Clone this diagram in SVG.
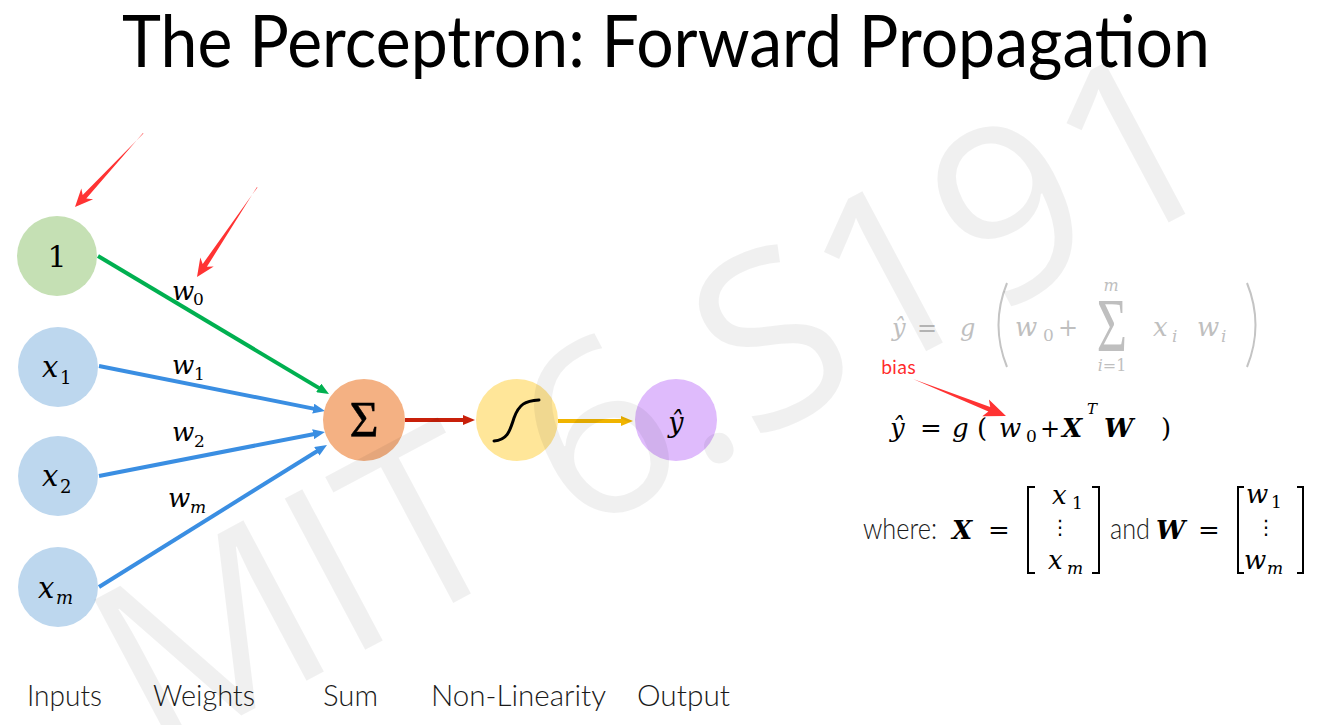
<svg xmlns="http://www.w3.org/2000/svg" width="1317" height="725" viewBox="0 0 1317 725">
<style>
.title{font-family:Lato,"Liberation Sans",sans-serif;font-size:72px;fill:#000}
.cap{font-family:Lato,"Liberation Sans",sans-serif;font-size:29px;font-weight:300;fill:#1a1a1a}
.m{font-family:"DejaVu Serif","Liberation Serif",serif;fill:#000}
.it{font-style:italic}
.bi{font-style:italic;font-weight:bold}
.gray{fill:#bfbfbf}
.bias{font-family:"Noto Sans CJK SC","Liberation Sans",sans-serif;font-size:18px;fill:#ff2b2b}
.wm{font-family:"Open Sans","DejaVu Sans",sans-serif;font-size:240px;fill:#000;fill-opacity:0.06}
.c-g{stroke:#00b050;stroke-width:4;fill:none}
.c-b{stroke:#3a8ee2;stroke-width:4;fill:none}
.c-r{stroke:#c8200a;stroke-width:4;fill:none}
.c-y{stroke:#f0b400;stroke-width:4;fill:none}
.br{stroke:#000;stroke-width:2;fill:none}
.ann{fill:#ff3333}
</style>
<defs>
<marker id="ag" viewBox="0 0 12 10" refX="4" refY="5" markerWidth="12" markerHeight="10" markerUnits="userSpaceOnUse" orient="auto"><path d="M0,0 L12,5 L0,10 z" fill="#00b050"/></marker>
<marker id="ab" viewBox="0 0 12 10" refX="4" refY="5" markerWidth="12" markerHeight="10" markerUnits="userSpaceOnUse" orient="auto"><path d="M0,0 L12,5 L0,10 z" fill="#3a8ee2"/></marker>
<marker id="ar" viewBox="0 0 12 10" refX="4" refY="5" markerWidth="12" markerHeight="10" markerUnits="userSpaceOnUse" orient="auto"><path d="M0,0 L12,5 L0,10 z" fill="#c8200a"/></marker>
<marker id="ay" viewBox="0 0 12 10" refX="4" refY="5" markerWidth="12" markerHeight="10" markerUnits="userSpaceOnUse" orient="auto"><path d="M0,0 L12,5 L0,10 z" fill="#f0b400"/></marker>
</defs>
<rect width="1317" height="725" fill="#fff"/>

<text class="title" x="122" y="67" textLength="1088" lengthAdjust="spacingAndGlyphs">The Perceptron: Forward Propagation</text>

<g id="connectors">
<line class="c-g" x1="98" y1="256" x2="322.1" y2="389.9" marker-end="url(#ag)"/>
<line class="c-b" x1="99" y1="366" x2="317.2" y2="409.4" marker-end="url(#ab)"/>
<line class="c-b" x1="99" y1="476" x2="317.1" y2="433.5" marker-end="url(#ab)"/>
<line class="c-b" x1="99" y1="587" x2="320.2" y2="449.2" marker-end="url(#ab)"/>
<line class="c-r" x1="405" y1="420" x2="467" y2="420" marker-end="url(#ar)"/>
<line class="c-y" x1="558" y1="421" x2="625" y2="421" marker-end="url(#ay)"/>
</g>

<g id="weights" class="m">
<text class="it" x="172" y="300" font-size="26">w</text><text x="193" y="305" font-size="17">0</text>
<text class="it" x="172" y="374" font-size="26">w</text><text x="194" y="380" font-size="17">1</text>
<text class="it" x="172" y="441" font-size="26">w</text><text x="194" y="447" font-size="17">2</text>
<text class="it" x="168" y="507" font-size="26">w</text><text class="it" x="190" y="513" font-size="17">m</text>
</g>

<g id="node-bias"><circle cx="57" cy="256" r="40" fill="#c5e0b4"/><text class="m" x="57" y="267" font-size="30" text-anchor="middle">1</text></g>
<g id="node-x1"><circle cx="58" cy="367" r="40" fill="#bdd7ee"/><text class="m it" x="42" y="377" font-size="29">x</text><text class="m" x="60" y="384" font-size="18">1</text></g>
<g id="node-x2"><circle cx="58" cy="476" r="40" fill="#bdd7ee"/><text class="m it" x="42" y="486" font-size="29">x</text><text class="m" x="60" y="493" font-size="18">2</text></g>
<g id="node-xm"><circle cx="58" cy="587" r="40" fill="#bdd7ee"/><text class="m it" x="38" y="598" font-size="29">x</text><text class="m it" x="56" y="604" font-size="18">m</text></g>
<g id="node-sum"><circle cx="364" cy="420" r="41" fill="#f4b183"/><text x="364" y="436" font-size="50" text-anchor="middle" font-family="Liberation Serif, serif" stroke="#000" stroke-width="0.5">Σ</text></g>
<g id="node-nonlin"><circle cx="517" cy="420" r="41" fill="#ffe699"/><path d="M494,441 C508,440 510,430 514,418 C519,404 525,401 539,400" stroke="#000" stroke-width="3" fill="none" stroke-linecap="round"/></g>
<g id="node-out"><circle cx="676" cy="420" r="41" fill="#dfbbfc"/><text class="m it" x="676" y="432" font-size="27" text-anchor="middle">ŷ</text></g>

<g id="captions" class="cap">
<text x="27" y="706" textLength="75" lengthAdjust="spacingAndGlyphs">Inputs</text>
<text x="153" y="706" textLength="102" lengthAdjust="spacingAndGlyphs">Weights</text>
<text x="323" y="706" textLength="55" lengthAdjust="spacingAndGlyphs">Sum</text>
<text x="431" y="706" textLength="175" lengthAdjust="spacingAndGlyphs">Non-Linearity</text>
<text x="637" y="706" textLength="93" lengthAdjust="spacingAndGlyphs">Output</text>
</g>

<g id="formula-sum" class="m gray">
<text class="it" x="892" y="336" font-size="24">ŷ</text>
<text x="917" y="336" font-size="24">=</text>
<text class="it" x="960" y="336" font-size="24">g</text>
<path d="M1007,283 Q990,325 1007,367" stroke="#c4c4c4" stroke-width="2" fill="none"/>
<text class="it" x="1015" y="336" font-size="26">w</text><text x="1043" y="341" font-size="17">0</text>
<text x="1058" y="336" font-size="24">+</text>
<text x="0" y="0" font-size="52" text-anchor="middle" font-family="Liberation Serif, serif" transform="translate(1112,351) scale(1,1.45)">Σ</text>
<text class="it" x="1111" y="291" font-size="16" text-anchor="middle">m</text>
<text x="1112" y="371" font-size="16" text-anchor="middle"><tspan font-style="italic">i</tspan>=1</text>
<text class="it" x="1153" y="336" font-size="26">x</text><text class="it" x="1172" y="342" font-size="17">i</text>
<text class="it" x="1197" y="336" font-size="26">w</text><text class="it" x="1221" y="342" font-size="17">i</text>
<path d="M1247,283 Q1264,325 1247,367" stroke="#c4c4c4" stroke-width="2" fill="none"/>
</g>

<g id="bias-label">
<text class="bias" x="881" y="374">bias</text>
<polygon class="ann" points="913,379 990.2,407 988.9,399.5 1006,416 982.3,416.3 988.4,411.6"/>
</g>

<g id="formula-matrix" class="m">
<text class="it" x="890" y="437" font-size="26">ŷ</text>
<text x="920" y="437" font-size="26">=</text>
<text class="it" x="952" y="437" font-size="26">g</text>
<text x="977" y="437" font-size="26">(</text>
<text class="it" x="999" y="437" font-size="26">w</text><text x="1026" y="442" font-size="17">0</text>
<text x="1040" y="437" font-size="24">+</text>
<text class="bi" x="1062" y="437" font-size="26">X</text>
<text class="it" x="1087" y="414" font-size="15">T</text>
<text class="bi" x="1104" y="437" font-size="26">W</text>
<text x="1161" y="437" font-size="26">)</text>
</g>

<g id="where-line">
<text class="cap" x="863" y="539" font-size="27" font-weight="400" textLength="74" lengthAdjust="spacingAndGlyphs">where:</text>
<g class="m">
<text class="bi" x="952" y="539" font-size="26">X</text>
<text x="988" y="539" font-size="26">=</text>
<path class="br" d="M1035,487 H1028 V573 H1035"/>
<text class="it" x="1052" y="504" font-size="26">x</text><text x="1072" y="509" font-size="17">1</text>
<text x="1060" y="534" font-size="20" text-anchor="middle" font-family="DejaVu Sans">⋮</text>
<text class="it" x="1048" y="569" font-size="26">x</text><text class="it" x="1067" y="574" font-size="17">m</text>
<path class="br" d="M1092,487 H1099 V573 H1092"/>
</g>
<text class="cap" x="1110" y="539" font-size="27" font-weight="400" textLength="40" lengthAdjust="spacingAndGlyphs">and</text>
<g class="m">
<text class="bi" x="1156" y="539" font-size="26">W</text>
<text x="1198" y="539" font-size="26">=</text>
<path class="br" d="M1244,487 H1238 V573 H1244"/>
<text class="it" x="1246" y="503" font-size="26">w</text><text x="1271" y="508" font-size="17">1</text>
<text x="1266" y="534" font-size="20" text-anchor="middle" font-family="DejaVu Sans">⋮</text>
<text class="it" x="1244" y="569" font-size="26">w</text><text class="it" x="1267" y="574" font-size="17">m</text>
<path class="br" d="M1297,487 H1303 V573 H1297"/>
</g>
</g>

<g id="annotations">
<polygon class="ann" points="143,133 143.4,133.5 82.7,195 81.3,188.4 75,207 93.1,199.2 86.3,198.4"/>
<polygon class="ann" points="257,187 257.4,187.4 202.7,264 200.3,257.6 197,277 213.7,266.4 206.9,266.8"/>
</g>

<text class="wm" transform="translate(154,762) rotate(-28)">MIT 6.S191</text>
</svg>
